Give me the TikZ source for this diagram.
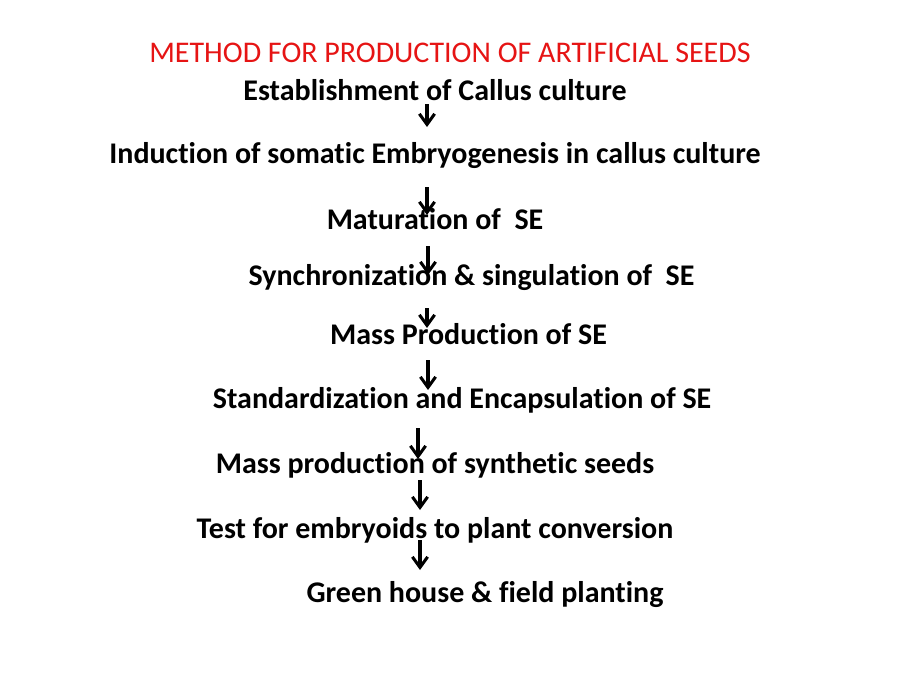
\documentclass[tikz,border=0pt]{standalone}
\usepackage{fontspec}
\setmainfont[Ligatures={NoCommon}]{Carlito}
\usetikzlibrary{arrows.meta}
\definecolor{titlered}{RGB}{230,20,20}
\tikzset{
  steptext/.style={font=\fontsize{25.6}{30}\selectfont\bfseries,inner sep=0pt,anchor=center},
  flowarrow/.style={-{Straight Barb[length=9pt,width=13pt]},line width=2.6pt,black}
}
\begin{document}
\begin{tikzpicture}[x=0.03cm,y=-0.03cm]
\useasboundingbox[fill=white] (0,0) rectangle (900,675);
% Titel
\node[font=\fontsize{25.6}{30}\selectfont,text=titlered,inner sep=0pt] (title) at (450,53) {METHOD FOR PRODUCTION OF ARTIFICIAL SEEDS};

% Schritte
\node[steptext] (callus) at (435,90) {Establishment of Callus culture};
\node[steptext] (induction) at (435,156) {Induction of somatic Embryogenesis in callus culture};
\node[steptext] (maturation) at (435,219) {Maturation of\ \ SE};
\node[steptext] (synchro) at (471.5,278) {Synchronization \& singulation of\ \ SE};
\node[steptext] (massse) at (468.5,334) {Mass Production of SE};
\node[steptext] (encaps) at (462,400) {Standardization and Encapsulation of SE};
\node[steptext] (synseeds) at (435,465) {Mass production of synthetic seeds};
\node[steptext] (test) at (435,530) {Test for embryoids to plant conversion};
\node[steptext] (green) at (485,595) {Green house \& field planting};

% Pfeile
\coordinate (arrowonetop) at (427,104);
\coordinate (arrowonebottom) at (427,127);
\coordinate (arrowtwotop) at (427,187);
\coordinate (arrowtwobottom) at (427,215);
\coordinate (arrowthreetop) at (428,246);
\coordinate (arrowthreebottom) at (428,275);
\coordinate (arrowfourtop) at (427,308);
\coordinate (arrowfourbottom) at (427,328);
\coordinate (arrowfivetop) at (428,360);
\coordinate (arrowfivebottom) at (428,390);
\coordinate (arrowsixtop) at (418,428);
\coordinate (arrowsixbottom) at (418,459);
\coordinate (arrowseventop) at (420,480);
\coordinate (arrowsevenbottom) at (420,510);
\coordinate (arroweighttop) at (420,540);
\coordinate (arroweightbottom) at (420,570);
\draw[flowarrow] (arrowonetop) -- (arrowonebottom);
\draw[flowarrow] (arrowtwotop) -- (arrowtwobottom);
\draw[flowarrow] (arrowthreetop) -- (arrowthreebottom);
\draw[flowarrow] (arrowfourtop) -- (arrowfourbottom);
\draw[flowarrow] (arrowfivetop) -- (arrowfivebottom);
\draw[flowarrow] (arrowsixtop) -- (arrowsixbottom);
\draw[flowarrow] (arrowseventop) -- (arrowsevenbottom);
\draw[flowarrow] (arroweighttop) -- (arroweightbottom);
\end{tikzpicture}
\end{document}
